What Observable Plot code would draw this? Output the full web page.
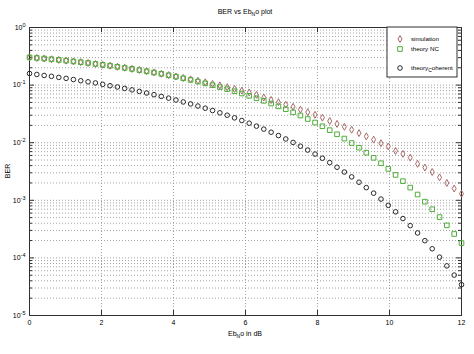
<!DOCTYPE html>
<html><head><meta charset="utf-8">
<script src="https://cdn.jsdelivr.net/npm/d3@7"></script>
<script src="https://cdn.jsdelivr.net/npm/@observablehq/plot@0.6"></script>
<style>
body{margin:0;background:#fff;}
svg{font-family:"Liberation Sans",Arial,Helvetica,sans-serif;}
</style></head><body><div id="chart"></div>
<script>
// Eb/No in dB (60 points from 0 to 12)
const ebno = [0,0.203,0.407,0.610,0.814,1.017,1.220,1.424,1.627,1.831,2.034,2.237,2.441,2.644,2.847,3.051,3.254,3.458,3.661,3.864,4.068,4.271,4.475,4.678,4.881,5.085,5.288,5.492,5.695,5.898,6.102,6.305,6.508,6.712,6.915,7.119,7.322,7.525,7.729,7.932,8.136,8.339,8.542,8.746,8.949,9.153,9.356,9.559,9.763,9.966,10.169,10.373,10.576,10.780,10.983,11.186,11.390,11.593,11.797,12];
const berSim = [0.303,0.296,0.289,0.281,0.274,0.266,0.258,0.250,0.242,0.233,0.225,0.217,0.208,0.200,0.191,0.183,0.174,0.166,0.157,0.149,0.141,0.133,0.126,0.119,0.112,0.105,0.0988,0.0919,0.0860,0.0801,0.0744,0.0678,0.0610,0.0552,0.0505,0.0458,0.0420,0.0375,0.0339,0.0305,0.0272,0.0238,0.0212,0.0189,0.0168,0.0147,0.0129,0.0113,0.0098,0.0086,0.0072,0.0064,0.0055,0.0043,0.0037,0.0031,0.0025,0.0020,0.0016,0.0013];
const berNC = [0.303,0.296,0.289,0.281,0.274,0.266,0.258,0.250,0.242,0.233,0.225,0.217,0.208,0.199,0.191,0.182,0.174,0.165,0.157,0.148,0.140,0.131,0.123,0.115,0.107,0.0997,0.0923,0.0851,0.0782,0.0715,0.0652,0.0591,0.0533,0.0479,0.0428,0.0381,0.0336,0.0296,0.0258,0.0224,0.0193,0.0165,0.0140,0.0118,0.00987,0.00818,0.00671,0.00546,0.00440,0.00351,0.00276,0.00215,0.00166,0.00126,0.000947,0.000700,0.000511,0.000368,0.000260,0.000181];
const berCoh = [0.159,0.153,0.147,0.142,0.136,0.131,0.125,0.119,0.114,0.109,0.103,0.0975,0.0927,0.0876,0.0826,0.0777,0.0729,0.0682,0.0637,0.0594,0.0551,0.0510,0.0471,0.0433,0.0397,0.0362,0.0330,0.0300,0.0270,0.0243,0.0218,0.0194,0.0172,0.0152,0.0133,0.0116,0.0101,0.00870,0.00745,0.00635,0.00537,0.00451,0.00375,0.00310,0.00255,0.00206,0.00166,0.00133,0.00105,0.000817,0.000631,0.000482,0.000363,0.000271,0.000199,0.000144,0.000103,0.0000727,0.0000503,0.0000343];

const seriesNames = ["simulation", "theory NC", ["theory", "C", "oherent"]];
const seriesColors = ["#a86a68", "#4fae3a", "#2a2a2a"];
const seriesSymbols = ["diamond", "square", "circle"];
const xTicks = [0, 2, 4, 6, 8, 10, 12];
const yTicks = [1e-5, 1e-4, 1e-3, 1e-2, 1e-1, 1];
const titleParts = ["BER vs Eb", "N", "o plot"];
const xLabelParts = ["Eb", "N", "o in dB"];
const yLabel = "BER";

const yMinor = [];
for (let k = -5; k < 0; k++) for (let m = 2; m <= 9; m++) yMinor.push(m * Math.pow(10, k));
const yGrid = yTicks.concat(yMinor);

const W = 474, H = 354, mL = 29, mR = 13, mT = 27, mB = 39;
const fw = W - mL - mR, fh = H - mT - mB;
const data = ebno.map((x, i) => ({x, sim: berSim[i], nc: berNC[i], coh: berCoh[i]}));
const grid = {stroke: "#8c8c8c", strokeOpacity: 1, strokeWidth: 0.8, strokeDasharray: "1,2"};
const axisColor = "#303030";

const svg = Plot.plot({
  width: W, height: H,
  marginLeft: mL, marginRight: mR, marginTop: mT, marginBottom: mB,
  style: {background: "#fff", color: "#000", fontSize: "7px", fontFamily: '"Liberation Sans", Arial, sans-serif'},
  x: {domain: [0, 12]},
  y: {type: "log", domain: [1e-5, 1]},
  marks: [
    Plot.gridY(yGrid, grid),
    Plot.gridX(xTicks.slice(1, -1), grid),
    Plot.frame({stroke: axisColor, strokeWidth: 1}),
    Plot.tickX(xTicks, {x: d => d, insetTop: fh - 5, stroke: axisColor}),
    Plot.tickX(xTicks, {x: d => d, insetBottom: fh - 5, stroke: axisColor}),
    Plot.tickY(yTicks, {y: d => d, insetRight: fw - 5, stroke: axisColor}),
    Plot.tickY(yTicks, {y: d => d, insetLeft: fw - 5, stroke: axisColor}),
    Plot.tickY(yMinor, {y: d => d, insetRight: fw - 3, stroke: axisColor}),
    Plot.tickY(yMinor, {y: d => d, insetLeft: fw - 3, stroke: axisColor}),
    Plot.axisX(xTicks, {tickSize: 0, tickPadding: 5, label: null, fontSize: 7}),
    Plot.axisY(yTicks, {tickSize: 0, tickPadding: 4, label: null, fontSize: 7,
      tickFormat: d => String(Math.round(Math.log10(d)))}),
    Plot.dot(data, {x: "x", y: "sim", symbol: seriesSymbols[0], r: 2.1, stroke: seriesColors[0], strokeWidth: 1}),
    Plot.dot(data, {x: "x", y: "nc", symbol: seriesSymbols[1], r: 2.6, stroke: seriesColors[1], strokeWidth: 1}),
    Plot.dot(data, {x: "x", y: "coh", symbol: seriesSymbols[2], r: 2.3, stroke: seriesColors[2], strokeWidth: 1})
  ]
});
document.getElementById("chart").append(svg);
const s = d3.select(svg);

// y tick labels as 10^k
s.selectAll('g[aria-label="y-axis tick label"] text').each(function () {
  const t = d3.select(this);
  const e = t.text();
  t.text("");
  t.append("tspan").text("10");
  t.append("tspan").attr("dy", "-0.55em").attr("font-size", "5.5px").text(e);
});

function subText(g, x, y, parts, size, anchor) {
  const t = g.append("text").attr("x", x).attr("y", y).attr("font-size", size)
    .attr("text-anchor", anchor).attr("fill", "#000");
  t.append("tspan").text(parts[0]);
  t.append("tspan").attr("dy", "0.35em").attr("font-size", (size * 0.72) + "px").text(parts[1]);
  t.append("tspan").attr("dy", "-0.25em").text(parts[2]);
  return t;
}

// title
subText(s, mL + fw / 2, 14, titleParts, 7, "middle");
// x label
subText(s, mL + fw / 2, 336, xLabelParts, 7, "middle");
// y label
s.append("text").attr("transform", `translate(10,${mT + fh / 2}) rotate(-90)`)
  .attr("text-anchor", "middle").attr("font-size", 7).attr("fill", "#000").text(yLabel);

// legend
const lw = 70, lh = 50;
const lx = mL + fw - 4 - lw, ly = mT;
const lg = s.append("g").attr("text-anchor", "start");
lg.append("rect").attr("x", lx).attr("y", ly).attr("width", lw).attr("height", lh)
  .attr("fill", "#fff").attr("stroke", axisColor).attr("stroke-width", 1);
const rowY = [12, 22, 41];
const symMap = {diamond: d3.symbolDiamond, square: d3.symbolSquare, circle: d3.symbolCircle};
const symSize = [Math.PI * 2.1 * 2.1, Math.PI * 2.6 * 2.6, Math.PI * 2.3 * 2.3];
seriesNames.forEach((name, i) => {
  const yy = ly + rowY[i];
  lg.append("path").attr("d", d3.symbol(symMap[seriesSymbols[i]], symSize[i])())
    .attr("transform", `translate(${lx + 13},${yy})`)
    .attr("fill", "none").attr("stroke", seriesColors[i]).attr("stroke-width", 1);
  const t = lg.append("text").attr("x", lx + 24).attr("y", yy + 2)
    .attr("font-size", 6.2).attr("fill", "#000").attr("text-anchor", "start");
  if (Array.isArray(name)) {
    t.append("tspan").text(name[0]);
    t.append("tspan").attr("dy", "0.4em").attr("font-size", "5px").text(name[1]);
    t.append("tspan").attr("dy", "-0.3em").text(name[2]);
  } else {
    t.text(name);
  }
});
</script></body></html>
